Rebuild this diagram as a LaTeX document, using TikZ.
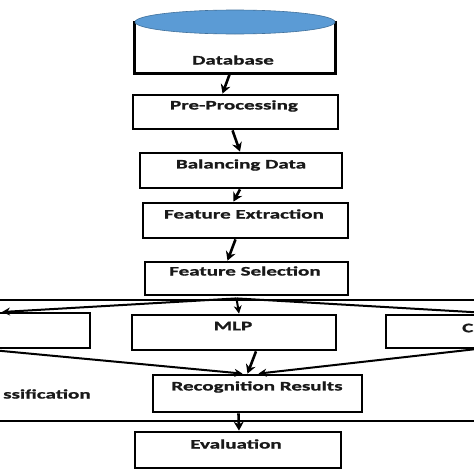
\documentclass[tikz,border=0pt]{standalone}
\usepackage{fontspec}
\setmainfont{Carlito}
\newfontfamily\boxfont[FakeStretch=1.62,FakeBold=1.2]{Carlito Bold}
\usetikzlibrary{arrows.meta}
\definecolor{dbblue}{HTML}{5B9BD5}
\definecolor{dbedge}{HTML}{41719C}
\tikzset{
  box/.style={draw=black, line width=2.8pt, fill=white, inner sep=0pt},
  lbl/.style={font=\boxfont\fontsize{13}{15}\selectfont, inner sep=0pt, text=black!90},
  arr/.style={line width=2.6pt, -{Stealth[length=9pt,width=10pt]}},
  thinarr/.style={line width=2pt, -{Stealth[length=8pt,width=8pt]}},
  frame/.style={draw=black, line width=2pt}
}
\begin{document}
\begin{tikzpicture}[x=1pt,y=-1pt]
\clip (0,0) rectangle (474,474);
\fill[white] (0,0) rectangle (474,474);
% Database cylinder
\node[minimum width=200pt, minimum height=52pt, inner sep=0pt] (db) at (235,47) {};
\draw[line width=3pt] (db.north west) -- (db.south west) -- (db.south east) -- (db.north east);
\draw[fill=dbblue, draw=dbedge, line width=0.6pt] (235,22) ellipse (100pt and 12pt);
\node[lbl] (dbt) at (233,60) {Database};
% boxes
\node[box, minimum width=205pt, minimum height=34pt] (pre) at (235.5,112) {};
\node[lbl] at (234,106) {Pre-Processing};
\node[box, minimum width=202pt, minimum height=35pt] (bal) at (241,170.5) {};
\node[lbl] at (241,165) {Balancing Data};
\node[box, minimum width=205pt, minimum height=35pt] (fe) at (245.5,220.5) {};
\node[lbl] at (244,214) {Feature Extraction};
\node[box, minimum width=203pt, minimum height=33pt] (fs) at (246.5,278.5) {};
\node[lbl] at (245,271) {Feature Selection};
% classification frame
\node[frame, minimum width=520pt, minimum height=121pt, inner sep=0pt] (cls) at (237,360.5) {};
\node[lbl, anchor=west] at (3,394) {ssification};
% classifier boxes
\node[box, minimum width=210pt, minimum height=35pt] (left) at (-15,330.5) {};
\node[box, minimum width=204pt, minimum height=35pt] (mlp) at (234,332.5) {};
\node[lbl] at (233,326) {MLP};
\node[box, minimum width=204pt, minimum height=33pt] (right) at (488,331.5) {};
\node[lbl, anchor=west] at (462,328) {C};
% recognition and evaluation
\node[box, minimum width=209pt, minimum height=37pt] (rec) at (257.5,393.5) {};
\node[lbl] at (257,387) {Recognition Results};
\node[box, minimum width=206pt, minimum height=36pt] (ev) at (238,450) {};
\node[lbl] at (236,444) {Evaluation};
% connectors
\draw[arr] ([xshift=-5pt]db.south) -- ([xshift=-13pt]pre.north);
\draw[arr] ([xshift=-3pt]pre.south) -- ([xshift=-1pt]bal.north);
\draw[arr] ([xshift=-1pt]bal.south) -- ([xshift=-12pt]fe.north);
\draw[arr] ([xshift=-10pt]fe.south) -- ([xshift=-19pt]fs.north);
\coordinate (fsa) at ([xshift=-10pt,yshift=-2pt]fs.south);
\coordinate (ra) at (488,313);
\draw[thinarr] (fsa) -- (2,312);
\draw[thinarr] (fsa) -- ([xshift=5pt]mlp.north);
\draw[thinarr] (fsa) -- (ra);
\draw[thinarr] ([yshift=0pt]left.south) -- ([xshift=-15pt]rec.north);
\draw[arr] ([xshift=22pt]mlp.south) -- ([xshift=-10pt]rec.north);
\draw[thinarr] ([xshift=-6pt,yshift=1pt]right.south) -- ([xshift=1pt]rec.north);
\draw[arr] ([xshift=-19pt]rec.south) -- ([xshift=1pt]ev.north);
\end{tikzpicture}
\end{document}
